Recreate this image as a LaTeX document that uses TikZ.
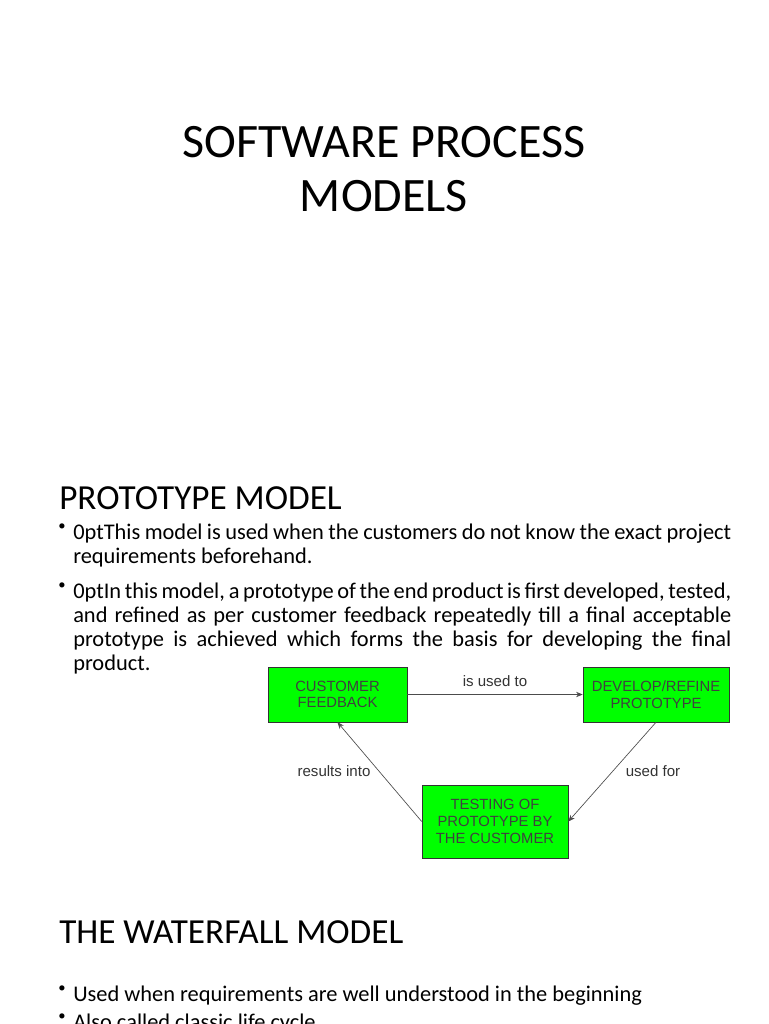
\documentclass[tikz,border=0pt]{standalone}
\usepackage{fontspec}
\setmainfont{Carlito}
\newfontfamily\arialf{Liberation Sans}
\usetikzlibrary{arrows.meta}
\begin{document}
\begin{tikzpicture}[x=0.75pt,y=-0.75pt,
  gbox/.style={draw=black!80,fill={rgb,255:red,0;green,255;blue,0},minimum height=41.25pt,inner sep=0pt,align=center,font=\arialf\fontsize{11.1}{12.5}\selectfont,text=black!75},
  lbl/.style={font=\arialf\fontsize{11.3}{13}\selectfont,text=black!80},
  arr/.style={-{Stealth[length=5pt,width=4pt]},black!70,line width=0.5pt},
  para/.style={anchor=north west,text width=493.5pt,align=justify,inner sep=0pt,font=\fontsize{16.8}{18}\selectfont\hyphenpenalty=10000\exhyphenpenalty=10000},
  bul/.style={anchor=north west,inner sep=0pt,font=\fontsize{16.8}{18}\selectfont}]
\useasboundingbox (0,0) rectangle (768,1024);
\node[font=\fontsize{36}{40}\selectfont,align=center] (title) at (384,169) {SOFTWARE PROCESS\\MODELS};
\node[anchor=west,font=\fontsize{26.4}{30}\selectfont,inner sep=0pt] (h1) at (59,498) {PROTOTYPE MODEL};
\node[bul] (b1) at (58,524) {\raisebox{0.8pt}{\fontsize{11}{11}\selectfont•}};
\node[para] (p1) at (73,524) {This model is used when the customers do not know the exact project\linebreak requirements beforehand.};
\node[bul] (b2) at (58,583) {\raisebox{0.8pt}{\fontsize{11}{11}\selectfont•}};
\node[para] (p2) at (73,583) {In this model, a prototype of the end product is first developed, tested,\linebreak and refined as per customer feedback repeatedly till a final acceptable\linebreak prototype is achieved which forms the basis for developing the final\linebreak product.};
\node[gbox,minimum width=104.25pt] (cf) at (337.5,694.5) {CUSTOMER\\FEEDBACK};
\node[gbox,minimum width=109.5pt] (dr) at (656,694.5) {DEVELOP/REFINE\\PROTOTYPE};
\node[gbox,minimum width=109.5pt,minimum height=54.75pt] (tp) at (495,821.5) {TESTING OF\\PROTOTYPE BY\\THE CUSTOMER};
\draw[arr] (cf.east) -- (dr.west) node[lbl,midway,above=2pt] {is used to};
\draw[arr] (dr.south) -- (tp.east);
\draw[arr] (tp.west) -- (cf.south);
\node[lbl] (l2) at (653,771) {used for};
\node[lbl] (l3) at (334,771) {results into};
\node[anchor=west,font=\fontsize{26.4}{30}\selectfont,inner sep=0pt] (h2) at (59,932) {THE WATERFALL MODEL};
\node[bul] (b3) at (58,986) {\raisebox{0.8pt}{\fontsize{11}{11}\selectfont•}};
\node[bul] (p3) at (73,986) {Used when requirements are well understood in the beginning};
\node[bul] (b4) at (58,1014) {\raisebox{0.8pt}{\fontsize{11}{11}\selectfont•}};
\node[bul] (p4) at (73,1014) {Also called classic life cycle};
\end{tikzpicture}
\end{document}
